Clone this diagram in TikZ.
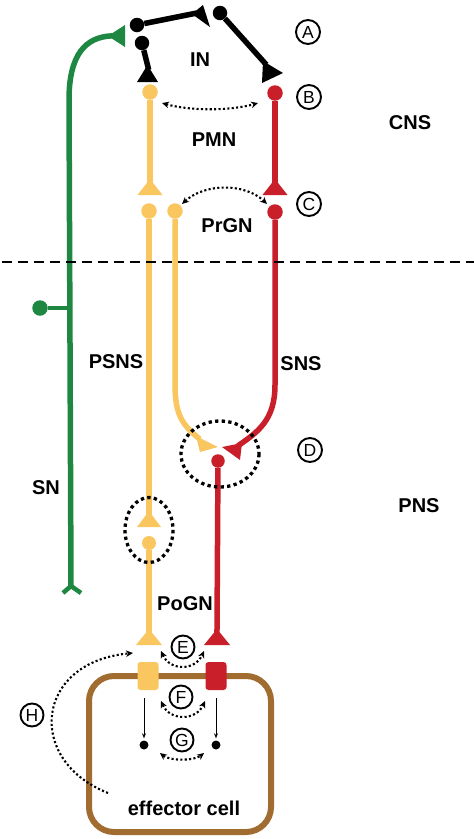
\documentclass[tikz,border=0pt]{standalone}
\usepackage{fontspec}
\setmainfont{Liberation Sans}
\usetikzlibrary{arrows.meta}
\definecolor{ylw}{HTML}{F9C660}
\definecolor{rd}{HTML}{C81F2A}
\definecolor{grn}{HTML}{1E8741}
\definecolor{brn}{HTML}{A06C30}
% terminal triangle: colour, apex, two relative base corners
\newcommand\synterm[4]{\fill[#1] (#2) -- +(#3) -- +(#4) -- cycle;}
\begin{document}
\begin{tikzpicture}[x=1pt,y=-1pt,
  axon/.style={line width=5.5pt, shorten >=-5pt},
  dotnode/.style={circle, inner sep=0pt, minimum size=15.5pt},
  lbl/.style={font=\bfseries\fontsize{20}{23}\selectfont, inner sep=0pt},
  circlbl/.style={circle, draw, line width=1.9pt, minimum size=24pt, inner sep=0pt, font=\fontsize{17.5}{19}\selectfont},
  dotline/.style={line width=2.1pt, dash pattern=on 2.1pt off 2.3pt},
  dotarrow/.style={dotline, {Stealth[length=7pt,width=6.5pt]}-{Stealth[length=7pt,width=6.5pt]}},
  ring/.style={line width=3.3pt, dash pattern=on 3.3pt off 3.3pt},
  receptor/.style={rounded corners=3pt, minimum width=21pt, minimum height=28pt, inner sep=0pt},
  smalldot/.style={circle, fill=black, inner sep=0pt, minimum size=9pt},
  cellbox/.style={draw=brn, line width=6pt, rounded corners=25pt, minimum width=182pt, minimum height=156pt, inner sep=0pt}
]
\useasboundingbox (0,0) rectangle (474,839);

% ---------- effector cell ----------
\node[cellbox] (cell) at (180,754) {};
\node[lbl] (celltxt) at (184,808) {effector cell};

% ---------- green sensory neuron (SN) ----------
\coordinate (gfork) at (71,586);
\coordinate (gbend) at (69,100);
\coordinate (gapex) at (108,36);
\coordinate (gbr) at (69,308);
\coordinate (gl) at (63,593);
\coordinate (gr) at (81,593);
\node[dotnode, fill=grn] (gdot) at (40,308) {};
\draw[grn, line width=5.5pt, shorten >=-4pt] (gfork) -- (gbend) .. controls (69,55) and (85,37) .. (gapex);
\synterm{grn}{gapex}{17,-11}{17,11}
\draw[grn, line width=4.5pt] (gdot) -- (gbr);
\draw[grn, line width=4.5pt] (gl) -- (gfork) -- (gr);

% ---------- black interneurons (IN) ----------
\node[dotnode, fill=black, minimum size=14.5pt] (k1) at (137,25) {};
\node[dotnode, fill=black, minimum size=14.5pt] (k2) at (142,43) {};
\node[dotnode, fill=black, minimum size=14.5pt] (k3) at (220,13) {};
\coordinate (k1a) at (192,14);
\coordinate (k2a) at (147.5,65);
\coordinate (k3a) at (263,61);
\draw[axon, black] (k1) -- (k1a);
\synterm{black}{k1a}{11,-9}{18,13}
\draw[axon, black] (k2) -- (k2a);
\synterm{black}{k2a}{-10.5,17}{10.5,17}
\draw[axon, black] (k3) -- (k3a);
\synterm{black}{k3a}{-1,22}{20,12}

% ---------- yellow (parasympathetic) ----------
\node[dotnode, fill=ylw] (yB) at (150,92) {};
\coordinate (yBa) at (150,179);
\draw[axon, ylw] (yB) -- (yBa);
\synterm{ylw}{yBa}{-12.5,16}{12.5,16}

\node[dotnode, fill=ylw] (yC1) at (149,211) {};
\coordinate (yC1a) at (149,511);
\draw[axon, ylw] (yC1) -- (yC1a);
\synterm{ylw}{yC1a}{-12,16}{12,16}

\node[dotnode, fill=ylw, minimum size=14pt] (yD) at (149,543) {};
\coordinate (yDa) at (149,629);
\draw[axon, ylw] (yD) -- (yDa);
\synterm{ylw}{yDa}{-13,16}{13,16}

\node[dotnode, fill=ylw] (yC2) at (175,211) {};
\coordinate (yC2a) at (196,436);
\draw[axon, ylw] (yC2) -- (175,385) .. controls (175,417) and (184,426) .. (yC2a);
\synterm{ylw}{yC2a}{4,16}{22,11}

% ---------- red (sympathetic) ----------
\node[dotnode, fill=rd] (rB) at (275,93) {};
\coordinate (rBa) at (275,179);
\draw[axon, rd] (rB) -- (rBa);
\synterm{rd}{rBa}{-12.5,16}{12.5,16}

\node[dotnode, fill=rd] (rC) at (275,212) {};
\coordinate (rSa) at (242,443);
\draw[axon, rd] (rC) -- (275,385) .. controls (275,420) and (258,432) .. (rSa);
\synterm{rd}{rSa}{-20,4}{-2,17}

\node[dotnode, fill=rd, minimum size=13.5pt] (rD) at (218,461) {};
\coordinate (rDa) at (217,629);
\draw[axon, rd] (rD) -- (rDa);
\synterm{rd}{rDa}{-13,16}{13,16}

% ---------- receptors and effector pathway ----------
\node[receptor, fill=ylw] (yR) at (148,676) {};
\node[receptor, fill=rd] (rR) at (216,676) {};
\coordinate (ys) at (144,698);
\coordinate (rs) at (216,698);
\node[smalldot] (bd1) at (144,745) {};
\node[smalldot] (bd2) at (216,745) {};
\draw[line width=0.8pt, -{Stealth[length=5pt,width=4pt]}, shorten >=2pt] (ys) -- (bd1);
\draw[line width=0.8pt, -{Stealth[length=5pt,width=4pt]}, shorten >=2pt] (rs) -- (bd2);

% ---------- CNS / PNS boundary ----------
\coordinate (dl) at (2,262);
\coordinate (dr) at (474,262);
\draw[line width=2.2pt, dash pattern=on 10pt off 6pt] (dl) -- (dr);

% ---------- dotted interaction arrows ----------
\coordinate (b1) at (162,103); \coordinate (b2) at (258,103);
\draw[dotarrow] (b1) .. controls (190,111) and (230,111) .. (b2);
\coordinate (c1) at (182,204); \coordinate (c2) at (267,204);
\draw[dotarrow] (c1) .. controls (205,183) and (245,183) .. (c2);
\coordinate (e1) at (161,651); \coordinate (e2) at (204,651);
\draw[dotarrow] (e1) .. controls (170,671) and (195,671) .. (e2);
\coordinate (f1) at (161,701); \coordinate (f2) at (205,701);
\draw[dotarrow] (f1) .. controls (170,721) and (196,721) .. (f2);
\coordinate (g1) at (160,753); \coordinate (g2) at (204,753);
\draw[dotarrow] (g1) .. controls (170,761) and (194,761) .. (g2);
\coordinate (h1) at (108,793); \coordinate (h2) at (133,653);
\draw[dotline, -{Stealth[length=7pt,width=6.5pt]}] (h1) .. controls (25,760) and (35,662) .. (h2);

% ---------- dotted rings ----------
\coordinate (ringD) at (220,454);
\coordinate (ringP) at (149,530);
\draw[ring] (ringD) ellipse [x radius=39, y radius=33];
\draw[ring] (ringP) ellipse [x radius=24, y radius=32.5];

% ---------- labels ----------
\node[lbl] (tIN) at (200,60) {IN};
\node[lbl] (tPMN) at (214,140) {PMN};
\node[lbl] (tPrGN) at (227,226) {PrGN};
\node[lbl] (tCNS) at (410,123) {CNS};
\node[lbl] (tPNS) at (419,506) {PNS};
\node[lbl] (tPSNS) at (116,362) {PSNS};
\node[lbl] (tSNS) at (301,364) {SNS};
\node[lbl] (tSN) at (46,488) {SN};
\node[lbl] (tPoGN) at (185,604) {PoGN};

\node[circlbl] (cA) at (308,32) {A};
\node[circlbl] (cB) at (309,97) {B};
\node[circlbl] (cC) at (309,204) {C};
\node[circlbl] (cD) at (310,450) {D};
\node[circlbl, minimum size=23pt] (cE) at (183,647) {E};
\node[circlbl, minimum size=23pt] (cF) at (181,697) {F};
\node[circlbl, minimum size=23pt] (cG) at (182,740) {G};
\node[circlbl, minimum size=23pt] (cH) at (32,715) {H};
\end{tikzpicture}
\end{document}
